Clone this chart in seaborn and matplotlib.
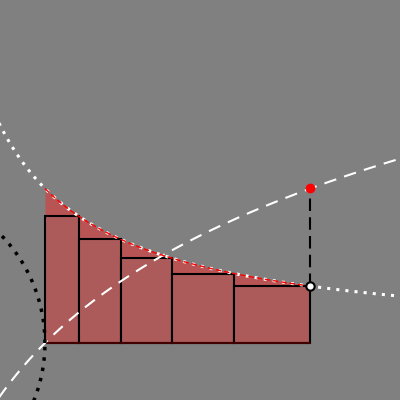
import numpy as np
import matplotlib
matplotlib.use("Agg")
import matplotlib.pyplot as plt
import seaborn as sns

# data
n_rects = 5
x_start = 1.0
x_end = np.e
edges = np.exp(np.arange(n_rects + 1) / n_rects)  # partition points 1 .. e

sns.set_theme(style="white")
fig = plt.figure(figsize=(4, 4), dpi=100, facecolor="#808080")
ax = fig.add_axes([0, 0, 1, 1])
ax.set_facecolor("#808080")

xs = np.linspace(0.5, 3.5, 400)
xa = np.linspace(x_start, x_end, 200)

# area under curve
ax.fill_between(xa, 0, 1 / xa, color="#ff2020", alpha=0.45, lw=0)
# lower-sum rectangles
for a, b in zip(edges[:-1], edges[1:]):
    ax.add_patch(plt.Rectangle((a, 0), b - a, 1 / b, facecolor="#ad5a5a",
                               edgecolor="black", lw=1.5))
ax.plot([x_start, x_end], [0, 0], color="#400000", lw=1.5)

# curves
sns.lineplot(x=xs, y=1 / xs, ax=ax, color="white", lw=2.2, linestyle=(0, (1, 2)))
xl = np.linspace(0.6, 3.5, 400)
sns.lineplot(x=xl, y=np.log(xl), ax=ax, color="white", lw=1.5, linestyle=(0, (6, 4)))
sns.lineplot(x=xa, y=1 / xa, ax=ax, color="red", lw=1, linestyle=(0, (4, 2)))
t = np.linspace(0, 2 * np.pi, 400)
ax.plot(np.cos(t), np.sin(t), color="black", lw=2.5, linestyle=(0, (1, 2)))

ax.plot([x_end, x_end], [1 / x_end, 1], color="black", lw=1.5, linestyle=(0, (6, 3)))
ax.plot([x_end], [1], "o", color="red", ms=6)
ax.plot([x_end], [1 / x_end], "o", mfc="white", mec="black", ms=6, mew=1.5)

ax.set_xlim(0.709, 3.298)
ax.set_ylim(-0.369, 2.220)
ax.axis("off")
fig.savefig("out.png", dpi=100, facecolor="#808080")
